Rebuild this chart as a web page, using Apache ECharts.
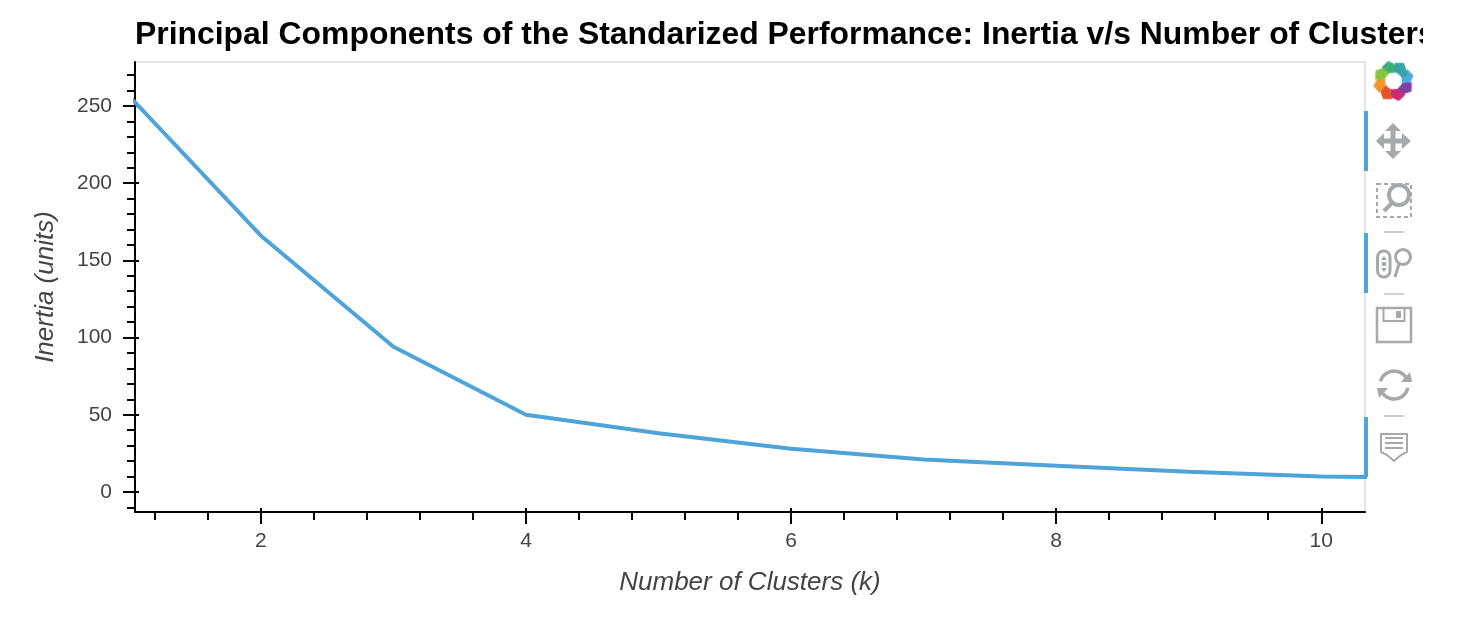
<!DOCTYPE html>
<html><head><meta charset="utf-8">
<style>html,body{margin:0;padding:0;background:#fff}#c{width:1468px;height:620px}</style>
<script src="https://cdn.jsdelivr.net/npm/echarts@6/dist/echarts.min.js"></script>
</head><body><div id="c"></div>
<script>
const clusters = [1, 2, 3, 4, 5, 6, 7, 8, 9, 10, 11];
const inertia = [257, 166, 94, 50, 38, 28, 21, 17, 13, 10, 9];
const xMajor = [2, 4, 6, 8, 10];
const xMinor = [1.2, 1.6, 2.4, 2.8, 3.2, 3.6, 4.4, 4.8, 5.2, 5.6, 6.4, 6.8, 7.2, 7.6, 8.4, 8.8, 9.2, 9.6];
const yMajor = [0, 50, 100, 150, 200, 250];
const yMinor = [-10, 10, 20, 30, 40, 60, 70, 80, 90, 110, 120, 130, 140, 160, 170, 180, 190, 210, 220, 230, 240, 260, 270];
const titleText = 'Principal Components of the Standarized Performance: Inertia v/s Number of Clusters';
const xName = 'Number of Clusters (k)';
const yName = 'Inertia (units)';

const ICON = '#a6a8ab', BLUE = '#4ea3d9';
const FONT = '"Liberation Sans", Arial, sans-serif';
const X = {min: 1.05, max: 10.33}, Y = {min: -13, max: 278.5};
const none = {show: false};
const noLine = {show: false, onZero: false};
function xAx(o){ return Object.assign({type:'value', position:'bottom', min:X.min, max:X.max, splitLine:none, axisLine:noLine, axisLabel:none, axisTick:none}, o); }
function yAx(o){ return Object.assign({type:'value', position:'left', min:Y.min, max:Y.max, splitLine:none, axisLine:noLine, axisLabel:none, axisTick:none}, o); }
const tickS = {color:'#000', width:2};
const labelS = {color:'#444', fontSize:21, fontFamily:FONT};
const nameS = {color:'#444', fontSize:26, fontStyle:'italic', fontFamily:FONT};

function line(x1,y1,x2,y2,w,c){ return {type:'line', z:50, shape:{x1,y1,x2,y2}, style:{stroke:c||ICON, lineWidth:w||2, fill:null}, silent:true}; }
function rect(x,y,width,height,c){ return {type:'rect', z:50, shape:{x,y,width,height}, style:{fill:c||ICON}, silent:true}; }
function box(x,y,width,height,w,dash){ return {type:'rect', z:50, shape:{x,y,width,height}, style:{fill:null, stroke:ICON, lineWidth:w||2, lineDash:dash||null}, silent:true}; }
function ring(cx,cy,r,w){ return {type:'circle', z:50, shape:{cx,cy,r}, style:{fill:'#fff', stroke:ICON, lineWidth:w||3}, silent:true}; }
function poly(points,c){ return {type:'polygon', z:50, shape:{points}, style:{fill:c||ICON}, silent:true}; }

const logoColors = ['#4fa8dc','#7b3fa0','#c92a74','#e4502e','#f0952e','#84c441','#3fae7a','#35a3a8'];
const cx = 1393.5, cy = 81;
function pol(r,deg){ const a = deg*Math.PI/180; return [cx+r*Math.cos(a), cy+r*Math.sin(a)]; }
const logo = logoColors.map((c,i)=>{
  const a = -30+i*45;
  return {type:'polygon', z:50, silent:true,
    shape:{points:[pol(9.5,a), pol(18,a-10), pol(20.5,a+15), pol(15.5,a+52), pol(9.5,a+52)]},
    style:{fill:c, opacity:.92, shadowBlur:2, shadowColor:c}};
});

const graphics = [
  rect(1423,0,45,58,'#fff'),
  rect(1364,111,4,60,BLUE), rect(1364,233,4,60,BLUE), rect(1364,417,4,60,BLUE),
  ...logo,
  // pan
  rect(1384,138.5,18,5), rect(1390.5,131,5,20),
  poly([[1393,123],[1385,131],[1401,131]]), poly([[1393,159],[1385,151],[1401,151]]),
  poly([[1376,141],[1384,133],[1384,149]]), poly([[1411,141],[1402,133],[1402,149]]),
  // box zoom
  box(1377,184,34,33,2,[4,3]),
  line(1384,211,1393,202,4), ring(1399,195,10,4),
  line(1384,232,1404,232,2,'#d0d0d0'),
  // wheel zoom
  {type:'rect', z:50, silent:true, shape:{x:1377.5,y:251,width:12.5,height:26,r:6}, style:{fill:'#fff',stroke:ICON,lineWidth:3}},
  poly([[1384,256],[1381,260],[1387,260]]), poly([[1384,272],[1381,268],[1387,268]]), rect(1382,262,4,4),
  line(1395,277,1399,264,3), ring(1403,257,7.5,3),
  line(1384,294,1404,294,2,'#d0d0d0'),
  // save
  box(1377,308,34,34,2.5), box(1383.5,308,21,13,2), rect(1396,311,5,7),
  // reset
  {type:'arc', z:50, silent:true, shape:{cx:1394,cy:385,r:14,startAngle:3.4,endAngle:5.9}, style:{stroke:ICON,lineWidth:3.5,fill:null}},
  {type:'arc', z:50, silent:true, shape:{cx:1394,cy:385,r:14,startAngle:0.2,endAngle:2.8}, style:{stroke:ICON,lineWidth:3.5,fill:null}},
  poly([[1401,382],[1412,382],[1410,372]]), poly([[1377,388],[1388,388],[1379,398]]),
  line(1384,416,1404,416,2,'#d0d0d0'),
  // hover
  {type:'polygon', z:50, silent:true, shape:{points:[[1381,434],[1407,434],[1407,452],[1401,455],[1394,461],[1387,455],[1381,452]]}, style:{fill:'#fff',stroke:ICON,lineWidth:2}},
  line(1385,438,1403,438,2), line(1385,443,1403,443,2), line(1385,448,1403,448,2)
];

const chart = echarts.init(document.getElementById('c'), null, {renderer:'canvas'});
chart.setOption({
  animation:false,
  backgroundColor:'#fff',
  title:{text:titleText, left:135, top:19, padding:0, textStyle:{color:'#000', fontSize:31.9, fontWeight:'bold', fontFamily:FONT}},
  grid:{left:135, right:103, top:62, bottom:108, show:true, borderColor:'#e5e5e5', borderWidth:2, backgroundColor:'#fff'},
  xAxis:[
    xAx({name:xName, nameLocation:'middle', nameGap:58, nameTextStyle:nameS,
      axisLine:{show:true, onZero:false, lineStyle:{color:'#000', width:2}},
      axisTick:{show:true, length:12, lineStyle:tickS, customValues:xMajor},
      axisLabel:{show:true, customValues:xMajor, margin:19, ...labelS}}),
    xAx({axisTick:{show:true, inside:true, length:4, lineStyle:tickS, customValues:xMajor}}),
    xAx({axisTick:{show:true, length:8, lineStyle:tickS, customValues:xMinor}})
  ],
  yAxis:[
    yAx({name:yName, nameLocation:'middle', nameGap:76, nameTextStyle:nameS,
      axisLine:{show:true, onZero:false, lineStyle:{color:'#000', width:2}},
      axisTick:{show:true, length:12, lineStyle:tickS, customValues:yMajor},
      axisLabel:{show:true, customValues:yMajor, margin:23, ...labelS}}),
    yAx({axisTick:{show:true, inside:true, length:4, lineStyle:tickS, customValues:yMajor}}),
    yAx({axisTick:{show:true, length:8, lineStyle:tickS, customValues:yMinor}})
  ],
  series:[{type:'line', data:clusters.map((k,i)=>[k,inertia[i]]), showSymbol:false, symbol:'none', clip:true,
    lineStyle:{color:BLUE, width:4}, silent:true}],
  graphic:{elements:graphics}
});
</script></body></html>
